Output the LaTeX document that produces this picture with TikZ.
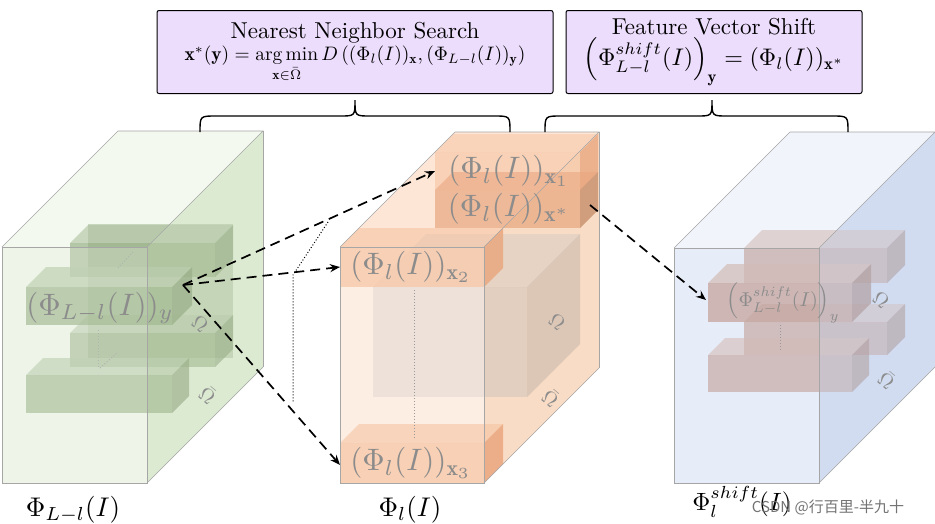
\documentclass[tikz,border=0pt]{standalone}
\usepackage{amsmath}
\usepackage{graphicx}
\usepackage{fontspec}
\newfontfamily\cjk{Noto Sans CJK SC}
\usetikzlibrary{arrows.meta}
\definecolor{purp}{HTML}{ECDDFC}
\definecolor{gF}{HTML}{EEF5E8}\definecolor{gT}{HTML}{F4F9F0}\definecolor{gS}{HTML}{DCEAD1}
\definecolor{gB}{HTML}{8AA676}
\definecolor{oF}{HTML}{FDEEE4}\definecolor{oT}{HTML}{FDE6D6}\definecolor{oS}{HTML}{F9DCC5}
\definecolor{oB}{HTML}{F6C4A2}\definecolor{oD}{HTML}{E9A77F}
\definecolor{bF}{HTML}{E7EDF8}\definecolor{bT}{HTML}{F1F4FB}\definecolor{bS}{HTML}{D1DCF0}
\definecolor{bB}{HTML}{C29F98}
\newcommand\cub[8]{%
 \fill[#7] ({#1},{#2}) -- ++({#5},{-#5}) -- ++({#3},0) -- ++({-#5},{#5}) -- cycle;
 \fill[#8] ({#1+#3},{#2}) -- ++({#5},{-#5}) -- ++(0,{#4}) -- ++({-#5},{#5}) -- cycle;
 \fill[#6] ({#1},{#2}) rectangle ++({#3},{#4});}
\newcommand\cubedge[5]{%
 \draw[edge] ({#1},{#2}) rectangle ++({#3},{#4});
 \draw[edge] ({#1},{#2}) -- ++({#5},{-#5}) -- ++({#3},0) -- ++({-#5},{#5});
 \draw[edge] ({#1+#3+#5},{#2-#5}) -- ++(0,{#4});
 \draw[edge] ({#1+#3},{#2+#4}) -- ++({#5},{-#5});}
\newcommand\sbx[2]{\scalebox{#1}{#2}}
\tikzset{
 edge/.style={draw=black!35, line width=0.6pt},
 box/.style={draw=black, line width=1pt, rounded corners=2pt, fill=purp, align=center, inner sep=0pt},
 lbl/.style={text=black!45, inner sep=0pt},
 om/.style={text=black!45, rotate=-40, inner sep=0pt},
 arr/.style={line width=1.7pt, dash pattern=on 10pt off 6pt, -{Stealth[length=10pt,width=8pt]}},
 dot/.style={line width=1pt, dotted},
 brace/.style={line width=1.4pt},
 capt/.style={inner sep=0pt}
}
\begin{document}
\begin{tikzpicture}[x=1pt,y=-1pt]
\useasboundingbox (0,0) rectangle (935,523);
\fill[white] (0,0) rectangle (935,523);
% ---------------- green cube
\cub{2}{247}{145}{236}{116}{gF}{gT}{gS}
\fill[gB,opacity=.4] (88,224) rectangle (233,358);
\cub{70}{243}{145}{34}{18}{gB,opacity=.6}{gB!70,opacity=.6}{gB!90!black,opacity=.6}
\cub{70}{333}{145}{34}{18}{gB,opacity=.6}{gB!70,opacity=.6}{gB!90!black,opacity=.6}
\cub{26}{287}{146}{38}{20}{gB,opacity=.7}{gB!70,opacity=.7}{gB!90!black,opacity=.7}
\cub{26}{375}{146}{38}{17}{gB,opacity=.65}{gB!70,opacity=.65}{gB!90!black,opacity=.65}
\draw[dot,black!40] (118,268) -- (133,252);
\draw[dot,black!40] (98,330) -- (98,368);
\draw[dot,black!40] (100,368) -- (118,352);
\fill[gF,opacity=.3] (2,247) rectangle (147,483);
\fill[gS,opacity=.3] (147,247) -- (263,132) -- (263,368) -- (147,483) -- cycle;
\cubedge{2}{247}{145}{236}{116}
\node[lbl] (gy) at (100,308) {\sbx{3.1}{$(\Phi_{L-l}(I))_y$}};
\coordinate (gyr) at (183,285);
\node[om] (gom) at (200,324) {\sbx{2}{$\Omega$}};
\node[om] (gomb) at (208,395) {\sbx{2}{$\bar\Omega$}};
\node[capt] (gcap) at (73,510) {\sbx{2.7}{$\Phi_{L-l}(I)$}};
% ---------------- orange cube
\cub{340}{247}{144}{236}{115}{oF}{oT}{oS}
\cub{373}{287}{154}{110}{53}{black!30,opacity=.3}{black!25,opacity=.3}{black!40,opacity=.3}
\cub{435}{152}{145}{38}{18}{oB,opacity=.6}{oB,opacity=.5}{oD,opacity=.8}
\cub{435}{190}{145}{38}{18}{oD,opacity=.7}{oD,opacity=.6}{oD!85!black,opacity=.8}
\fill[oF,opacity=.35] (340,247) rectangle (484,483);
\cub{340}{247}{144}{40}{19}{oB,opacity=.7}{oB,opacity=.6}{oD,opacity=.85}
\cub{340}{443}{144}{40}{19}{oB,opacity=.7}{oB,opacity=.6}{oD,opacity=.85}
\draw[dot,black!40] (414,290) -- (414,438);
\cubedge{340}{247}{144}{236}{115}
\node[lbl] (x1) at (509,171) {\sbx{3.1}{$(\Phi_l(I))_{\mathbf{x}_1}$}};
\node[lbl] (xs) at (509,209) {\sbx{3.1}{$(\Phi_l(I))_{\mathbf{x}^*}$}};
\node[lbl] (x2) at (411,267) {\sbx{3.1}{$(\Phi_l(I))_{\mathbf{x}_2}$}};
\node[lbl] (x3) at (411,463) {\sbx{3.1}{$(\Phi_l(I))_{\mathbf{x}_3}$}};
\coordinate (x1w) at (435,171);
\coordinate (x2w) at (340,267);
\coordinate (x3w) at (340,465);
\coordinate (xse) at (590,205);
\node[om] (oom) at (557,322) {\sbx{2}{$\Omega$}};
\node[om] (oomb) at (551,398) {\sbx{2}{$\bar\Omega$}};
\node[capt] (ocap) at (410,510) {\sbx{2.7}{$\Phi_l(I)$}};
% ---------------- blue cube
\cub{674}{248}{145}{235}{116}{bF}{bT}{bS}
\cub{744}{248}{143}{35}{18}{bB,opacity=.6}{bB!70,opacity=.6}{bB!85!black,opacity=.6}
\cub{744}{322}{143}{33}{18}{bB,opacity=.6}{bB!70,opacity=.6}{bB!85!black,opacity=.6}
\cub{708}{283}{144}{39}{19}{bB,opacity=.7}{bB!70,opacity=.7}{bB!85!black,opacity=.7}
\cub{708}{355}{144}{37}{17}{bB,opacity=.6}{bB!70,opacity=.6}{bB!85!black,opacity=.6}
\draw[dot,black!40] (780,325) -- (780,350);
\fill[bS,opacity=.3] (819,248) -- (935,132) -- (935,367) -- (819,483) -- cycle;
\cubedge{674}{248}{145}{235}{116}
\node[lbl] (by) at (783,303) {\sbx{2}{$\left(\Phi^{shift}_{L-l}(I)\right)_y$}};
\coordinate (byw) at (706,300);
\node[om] (bom) at (881,300) {\sbx{2}{$\Omega$}};
\node[om] (bomb) at (887,380) {\sbx{2}{$\bar\Omega$}};
\node[capt] (bcap) at (742,502) {\sbx{2.5}{$\Phi_l^{shift}(I)$}};
\node[text=black!55, font=\cjk\fontsize{15}{17}\selectfont] (wm) at (828,507) {CSDN @行百里-半九十};
% ---------------- arrows
\draw[dot] (328,222) -- (293,275) -- (293,403);
\draw[arr] (gyr) -- (x1w);
\draw[arr] (gyr) -- (x2w);
\draw[arr] (gyr) -- (x3w);
\draw[arr] (xse) -- (byw);
% ---------------- boxes and braces
\node[box, minimum width=396pt, minimum height=83pt] (nns) at (355,52)
 {\sbx{2.3}{Nearest Neighbor Search}\\[2pt]
  \sbx{1.95}{$\mathbf{x}^*(\mathbf{y})=\mathop{\mathrm{arg\,min}}\limits_{\mathbf{x}\in\bar\Omega} D\left((\Phi_l(I))_{\mathbf{x}},(\Phi_{L-l}(I))_{\mathbf{y}}\right)$}};
\node[box, minimum width=296pt, minimum height=83pt] (fvs) at (714,52)
 {\sbx{2.3}{Feature Vector Shift}\\[2pt]
  \sbx{2.4}{$\left(\Phi^{shift}_{L-l}(I)\right)_{\mathbf{y}}=(\Phi_l(I))_{\mathbf{x}^*}$}};
\draw[brace] (200,132) .. controls (200,116) .. (216,116) -- (340,116) .. controls (355,116) .. (355,100)
 .. controls (355,116) .. (370,116) -- (494,116) .. controls (510,116) .. (510,132);
\draw[brace] (545,132) .. controls (545,116) .. (561,116) -- (697,116) .. controls (712,116) .. (712,100)
 .. controls (712,116) .. (727,116) -- (832,116) .. controls (848,116) .. (848,132);
\end{tikzpicture}
\end{document}
